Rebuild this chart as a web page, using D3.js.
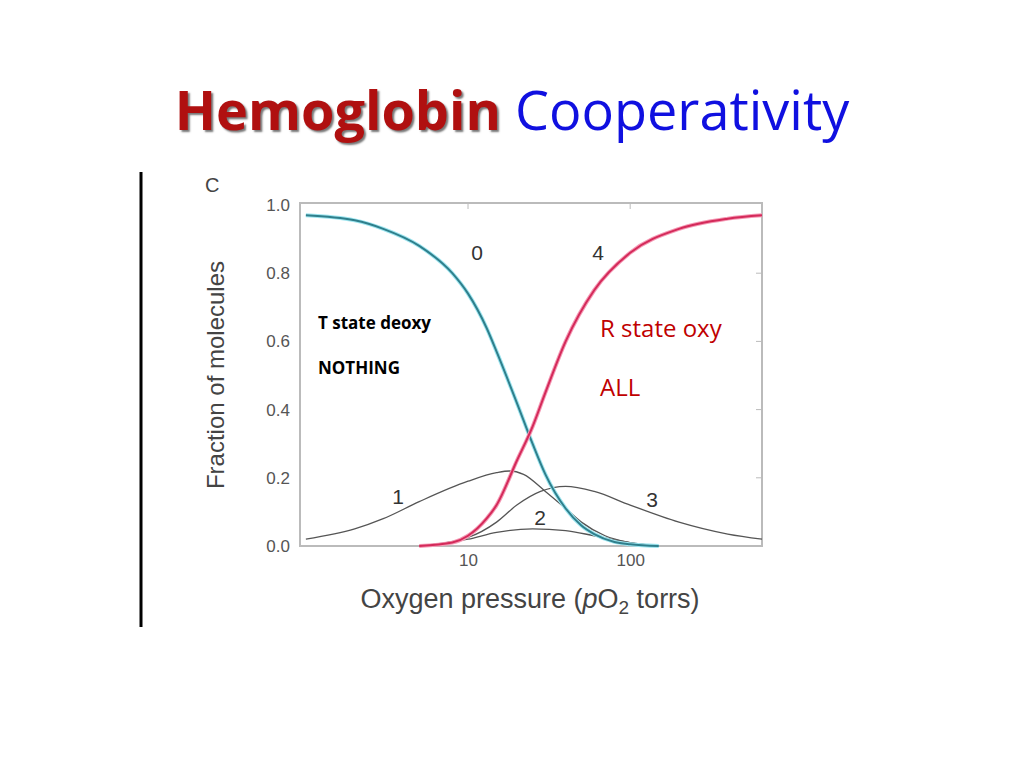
<!DOCTYPE html><html><head><meta charset="utf-8"><script src="https://cdn.jsdelivr.net/npm/d3@7"></script>
<style>body{margin:0;background:#fff}</style></head><body><svg id="c" width="1024" height="768"></svg><script>
const s0=[[1,0.97],[2,0.955],[3,0.93],[5,0.88],[8,0.8],[10,0.74],[13,0.64],[15,0.57],[20,0.42],[25,0.3],[30,0.21],[40,0.11],[50,0.06],[60,0.035],[80,0.012],[100,0.005],[150,0]];
const s4=[[5,0],[8,0.01],[10,0.03],[13,0.08],[15,0.12],[20,0.25],[25,0.35],[30,0.45],[40,0.6],[60,0.75],[100,0.86],[200,0.93],[400,0.96],[650,0.97]];
const s1=[[1,0.02],[2,0.05],[3,0.08],[5,0.13],[10,0.19],[15,0.215],[18,0.22],[22,0.21],[30,0.16],[40,0.11],[50,0.07],[70,0.03],[100,0.01],[150,0]];
const s2=[[5,0],[10,0.02],[15,0.04],[25,0.05],[40,0.045],[60,0.03],[100,0.01],[150,0]];
const s3=[[5,0],[10,0.025],[15,0.07],[20,0.12],[28,0.16],[40,0.175],[60,0.16],[100,0.12],[200,0.07],[400,0.035],[650,0.02]];
const yTicks=[0,0.2,0.4,0.6,0.8,1.0], xTicks=[10,100];
const svg=d3.select("#c");
const x=d3.scaleLog().domain([0.92,650]).range([300,762]);
const y=d3.scaleLinear().domain([0,1]).range([546,205]);
const t=svg.append("text").attr("x",512).attr("y",130).attr("text-anchor","middle").attr("font-family","Open Sans, Liberation Sans").attr("font-size",54);
t.append("tspan").text("Hemoglobin").attr("font-weight","bold").attr("fill","#b01010").attr("style","text-shadow:2px 2px 2px #777");
t.append("tspan").text(" Cooperativity").attr("fill","#1010e0");
svg.append("line").attr("x1",141).attr("x2",141).attr("y1",172).attr("y2",627).attr("stroke","#000").attr("stroke-width",3);
const g=svg.append("g").attr("font-family","Liberation Sans, Arial").attr("fill","#444");
g.append("text").attr("x",205).attr("y",192).attr("font-size",20).attr("fill","#444").text("C");
g.append("rect").attr("x",300).attr("y",203).attr("width",462).attr("height",343).attr("fill","none").attr("stroke","#bbb").attr("stroke-width",2);
g.append("g").attr("transform","translate(300,0)").call(d3.axisLeft(y).tickValues(yTicks).tickFormat(d3.format(".1f")).tickSize(0).tickPadding(10)).call(a=>{a.select(".domain").remove();a.selectAll("text").attr("font-size",17).attr("fill","#555")});
g.append("g").attr("transform","translate(0,546)").call(d3.axisBottom(x).tickValues(xTicks).tickFormat(d3.format("d")).tickSize(0).tickPadding(8)).call(a=>{a.select(".domain").remove();a.selectAll("text").attr("font-size",17).attr("fill","#555")});
yTicks.slice(1,5).forEach(v=>g.append("line").attr("x1",756).attr("x2",762).attr("y1",y(v)).attr("y2",y(v)).attr("stroke","#bbb"));
xTicks.forEach(v=>g.append("line").attr("x1",x(v)).attr("x2",x(v)).attr("y1",203).attr("y2",209).attr("stroke","#bbb"));
g.append("text").attr("transform","translate(224,375) rotate(-90)").attr("text-anchor","middle").attr("font-size",24).attr("fill","#444").text("Fraction of molecules");
const xl=g.append("text").attr("x",530).attr("y",608).attr("text-anchor","middle").attr("font-size",27).attr("fill","#444");
xl.append("tspan").text("Oxygen pressure (");xl.append("tspan").attr("font-style","italic").text("p");xl.append("tspan").text("O");xl.append("tspan").attr("font-size",19).attr("dy",6).text("2");xl.append("tspan").attr("dy",-6).text(" torrs)");
const ln=d3.line().x(d=>x(d[0])).y(d=>y(d[1])).curve(d3.curveMonotoneX);
[[s1,"#555"],[s2,"#555"],[s3,"#555"]].forEach(([d,c])=>svg.append("path").attr("d",ln(d)).attr("fill","none").attr("stroke",c).attr("stroke-width",1.3));
svg.append("path").attr("d",ln(s0)).attr("fill","none").attr("stroke","#9fe6f0").attr("stroke-width",4);
svg.append("path").attr("d",ln(s0)).attr("fill","none").attr("stroke","#2f7f8c").attr("stroke-width",2);
svg.append("path").attr("d",ln(s4)).attr("fill","none").attr("stroke","#f59ab5").attr("stroke-width",4);
svg.append("path").attr("d",ln(s4)).attr("fill","none").attr("stroke","#d42a5a").attr("stroke-width",2);
const lab=[["0",477,260],["4",598,260],["1",398,504],["2",540,525],["3",652,507]];
lab.forEach(([s,a,b])=>svg.append("text").attr("x",a).attr("y",b).attr("text-anchor","middle").attr("font-family","Liberation Sans, Arial").attr("font-size",21).attr("fill","#333").text(s));
const f="Open Sans, Liberation Sans";
svg.append("text").attr("x",318).attr("y",329).attr("font-family",f).attr("font-weight","bold").attr("font-size",17).text("T state deoxy");
svg.append("text").attr("x",318).attr("y",374).attr("font-family",f).attr("font-weight","bold").attr("font-size",17).text("NOTHING");
svg.append("text").attr("x",600).attr("y",337).attr("font-family",f).attr("font-size",24).attr("fill","#c00000").text("R state oxy");
svg.append("text").attr("x",600).attr("y",396).attr("font-family",f).attr("font-size",24).attr("fill","#c00000").text("ALL");
</script></body></html>
